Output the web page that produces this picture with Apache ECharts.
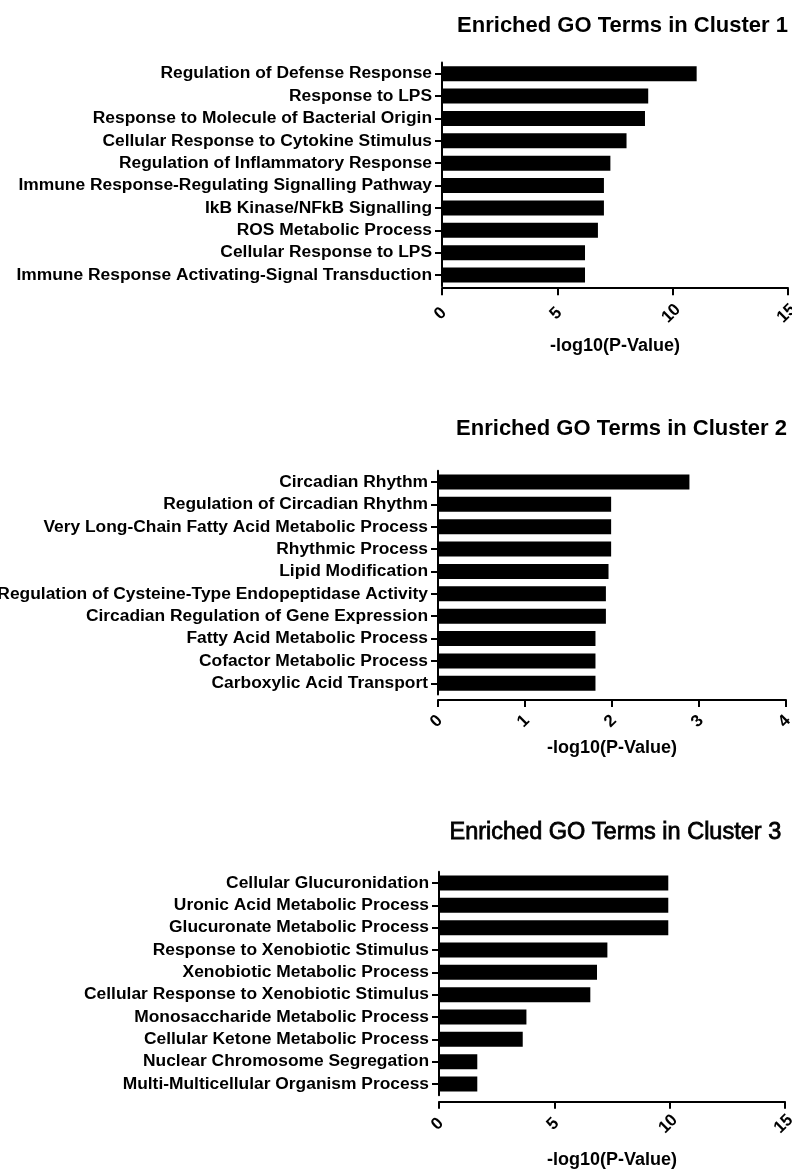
<!DOCTYPE html>
<html>
<head>
<meta charset="utf-8">
<script src="https://cdn.jsdelivr.net/npm/echarts@6/dist/echarts.min.js"></script>
<style>
  html, body { margin: 0; padding: 0; background: #fff; }
  #chart { width: 792px; height: 1169px; }
</style>
</head>
<body>
<div id="chart"></div>
<script>
// data, top to bottom
const cluster1Terms = [
  'Regulation of Defense Response',
  'Response to LPS',
  'Response to Molecule of Bacterial Origin',
  'Cellular Response to Cytokine Stimulus',
  'Regulation of Inflammatory Response',
  'Immune Response-Regulating Signalling Pathway',
  'IkB Kinase/NFkB Signalling',
  'ROS Metabolic Process',
  'Cellular Response to LPS',
  'Immune Response Activating-Signal Transduction'
];
const cluster1Values = [11.04, 8.94, 8.8, 8.0, 7.3, 7.02, 7.02, 6.76, 6.2, 6.2];

const cluster2Terms = [
  'Circadian Rhythm',
  'Regulation of Circadian Rhythm',
  'Very Long-Chain Fatty Acid Metabolic Process',
  'Rhythmic Process',
  'Lipid Modification',
  'Regulation of Cysteine-Type Endopeptidase Activity',
  'Circadian Regulation of Gene Expression',
  'Fatty Acid Metabolic Process',
  'Cofactor Metabolic Process',
  'Carboxylic Acid Transport'
];
const cluster2Values = [2.89, 1.99, 1.99, 1.99, 1.96, 1.93, 1.93, 1.81, 1.81, 1.81];

const cluster3Terms = [
  'Cellular Glucuronidation',
  'Uronic Acid Metabolic Process',
  'Glucuronate Metabolic Process',
  'Response to Xenobiotic Stimulus',
  'Xenobiotic Metabolic Process',
  'Cellular Response to Xenobiotic Stimulus',
  'Monosaccharide Metabolic Process',
  'Cellular Ketone Metabolic Process',
  'Nuclear Chromosome Segregation',
  'Multi-Multicellular Organism Process'
];
const cluster3Values = [9.94, 9.94, 9.94, 7.3, 6.85, 6.56, 3.79, 3.63, 1.66, 1.66];

const xTicks1 = [0, 5, 10, 15];
const xTicks2 = [0, 1, 2, 3, 4];
const xTicks3 = [0, 5, 10, 15];

const titles = [
  'Enriched GO Terms in Cluster 1',
  'Enriched GO Terms in Cluster 2',
  'Enriched GO Terms in Cluster 3'
];
const axisTitle = '-log10(P-Value)';

const FONT = 'Arial, "Liberation Sans", Helvetica, sans-serif';

// title styles: the third one is a lighter, semi-bold face
const boldTitle = { fontFamily: FONT, fontSize: 22, fontWeight: 'bold', color: '#000' };
const semiTitle = { fontFamily: FONT, fontSize: 23.5, fontWeight: 'normal', color: '#000',
  textBorderColor: '#000', textBorderWidth: 0.8 };

// placement of each panel on the page
const panels = [
  { terms: cluster1Terms, values: cluster1Values, ticks: xTicks1,
    grid: { left: 442, right: 4, top: 62.5, height: 223.7 },
    offset: 2, labelMargin: 24, nameGap: 49,
    title: { right: -1, top: 10 }, titleStyle: boldTitle },
  { terms: cluster2Terms, values: cluster2Values, ticks: xTicks2,
    grid: { left: 438, right: 6, top: 470.8, height: 223.7 },
    offset: 5.5, labelMargin: 20, nameGap: 39,
    title: { right: 0, top: 413 }, titleStyle: boldTitle },
  { terms: cluster3Terms, values: cluster3Values, ticks: xTicks3,
    grid: { left: 439, right: 7, top: 871.8, height: 223.4 },
    offset: 6.5, labelMargin: 21, nameGap: 49,
    title: { right: 5, top: 816 }, titleStyle: semiTitle }
];

const axisLine = { show: true, lineStyle: { color: '#000', width: 2 } };
const axisTick = { show: true, length: 7, lineStyle: { color: '#000', width: 2 } };

let option = { animation: false, backgroundColor: '#fff', title: [], grid: [], xAxis: [], yAxis: [], series: [] };

panels.forEach((p, i) => {
  const t = p.ticks;
  option.title.push({
    text: titles[i],
    right: p.title.right,
    top: p.title.top,
    textStyle: p.titleStyle
  });
  option.grid.push(Object.assign({ containLabel: false, outerBoundsMode: 'none' }, p.grid));
  option.xAxis.push({
    type: 'value',
    gridIndex: i,
    min: t[0],
    max: t[t.length - 1],
    interval: t[1] - t[0],
    offset: p.offset,
    axisLine,
    axisTick,
    splitLine: { show: false },
    axisLabel: {
      rotate: 45,
      align: 'center',
      verticalAlign: 'middle',
      margin: p.labelMargin,
      padding: [0, 4, 0, 0],
      fontFamily: FONT,
      fontSize: 17,
      fontWeight: 'bold',
      color: '#000'
    },
    name: axisTitle,
    nameLocation: 'middle',
    nameGap: p.nameGap,
    nameTextStyle: { fontFamily: FONT, fontSize: 18, fontWeight: 'bold', color: '#000' }
  });
  option.yAxis.push({
    type: 'category',
    gridIndex: i,
    data: p.terms,
    inverse: true,
    axisLine,
    axisTick: Object.assign({ alignWithLabel: true }, axisTick),
    axisLabel: {
      margin: 10,
      fontFamily: FONT,
      fontSize: 17.4,
      fontWeight: 'bold',
      color: '#000'
    }
  });
  option.series.push({
    type: 'bar',
    xAxisIndex: i,
    yAxisIndex: i,
    data: p.values,
    barWidth: 15,
    itemStyle: { color: '#000' }
  });
});

const myChart = echarts.init(document.getElementById('chart'), null, { renderer: 'canvas' });
myChart.setOption(option);
</script>
</body>
</html>
